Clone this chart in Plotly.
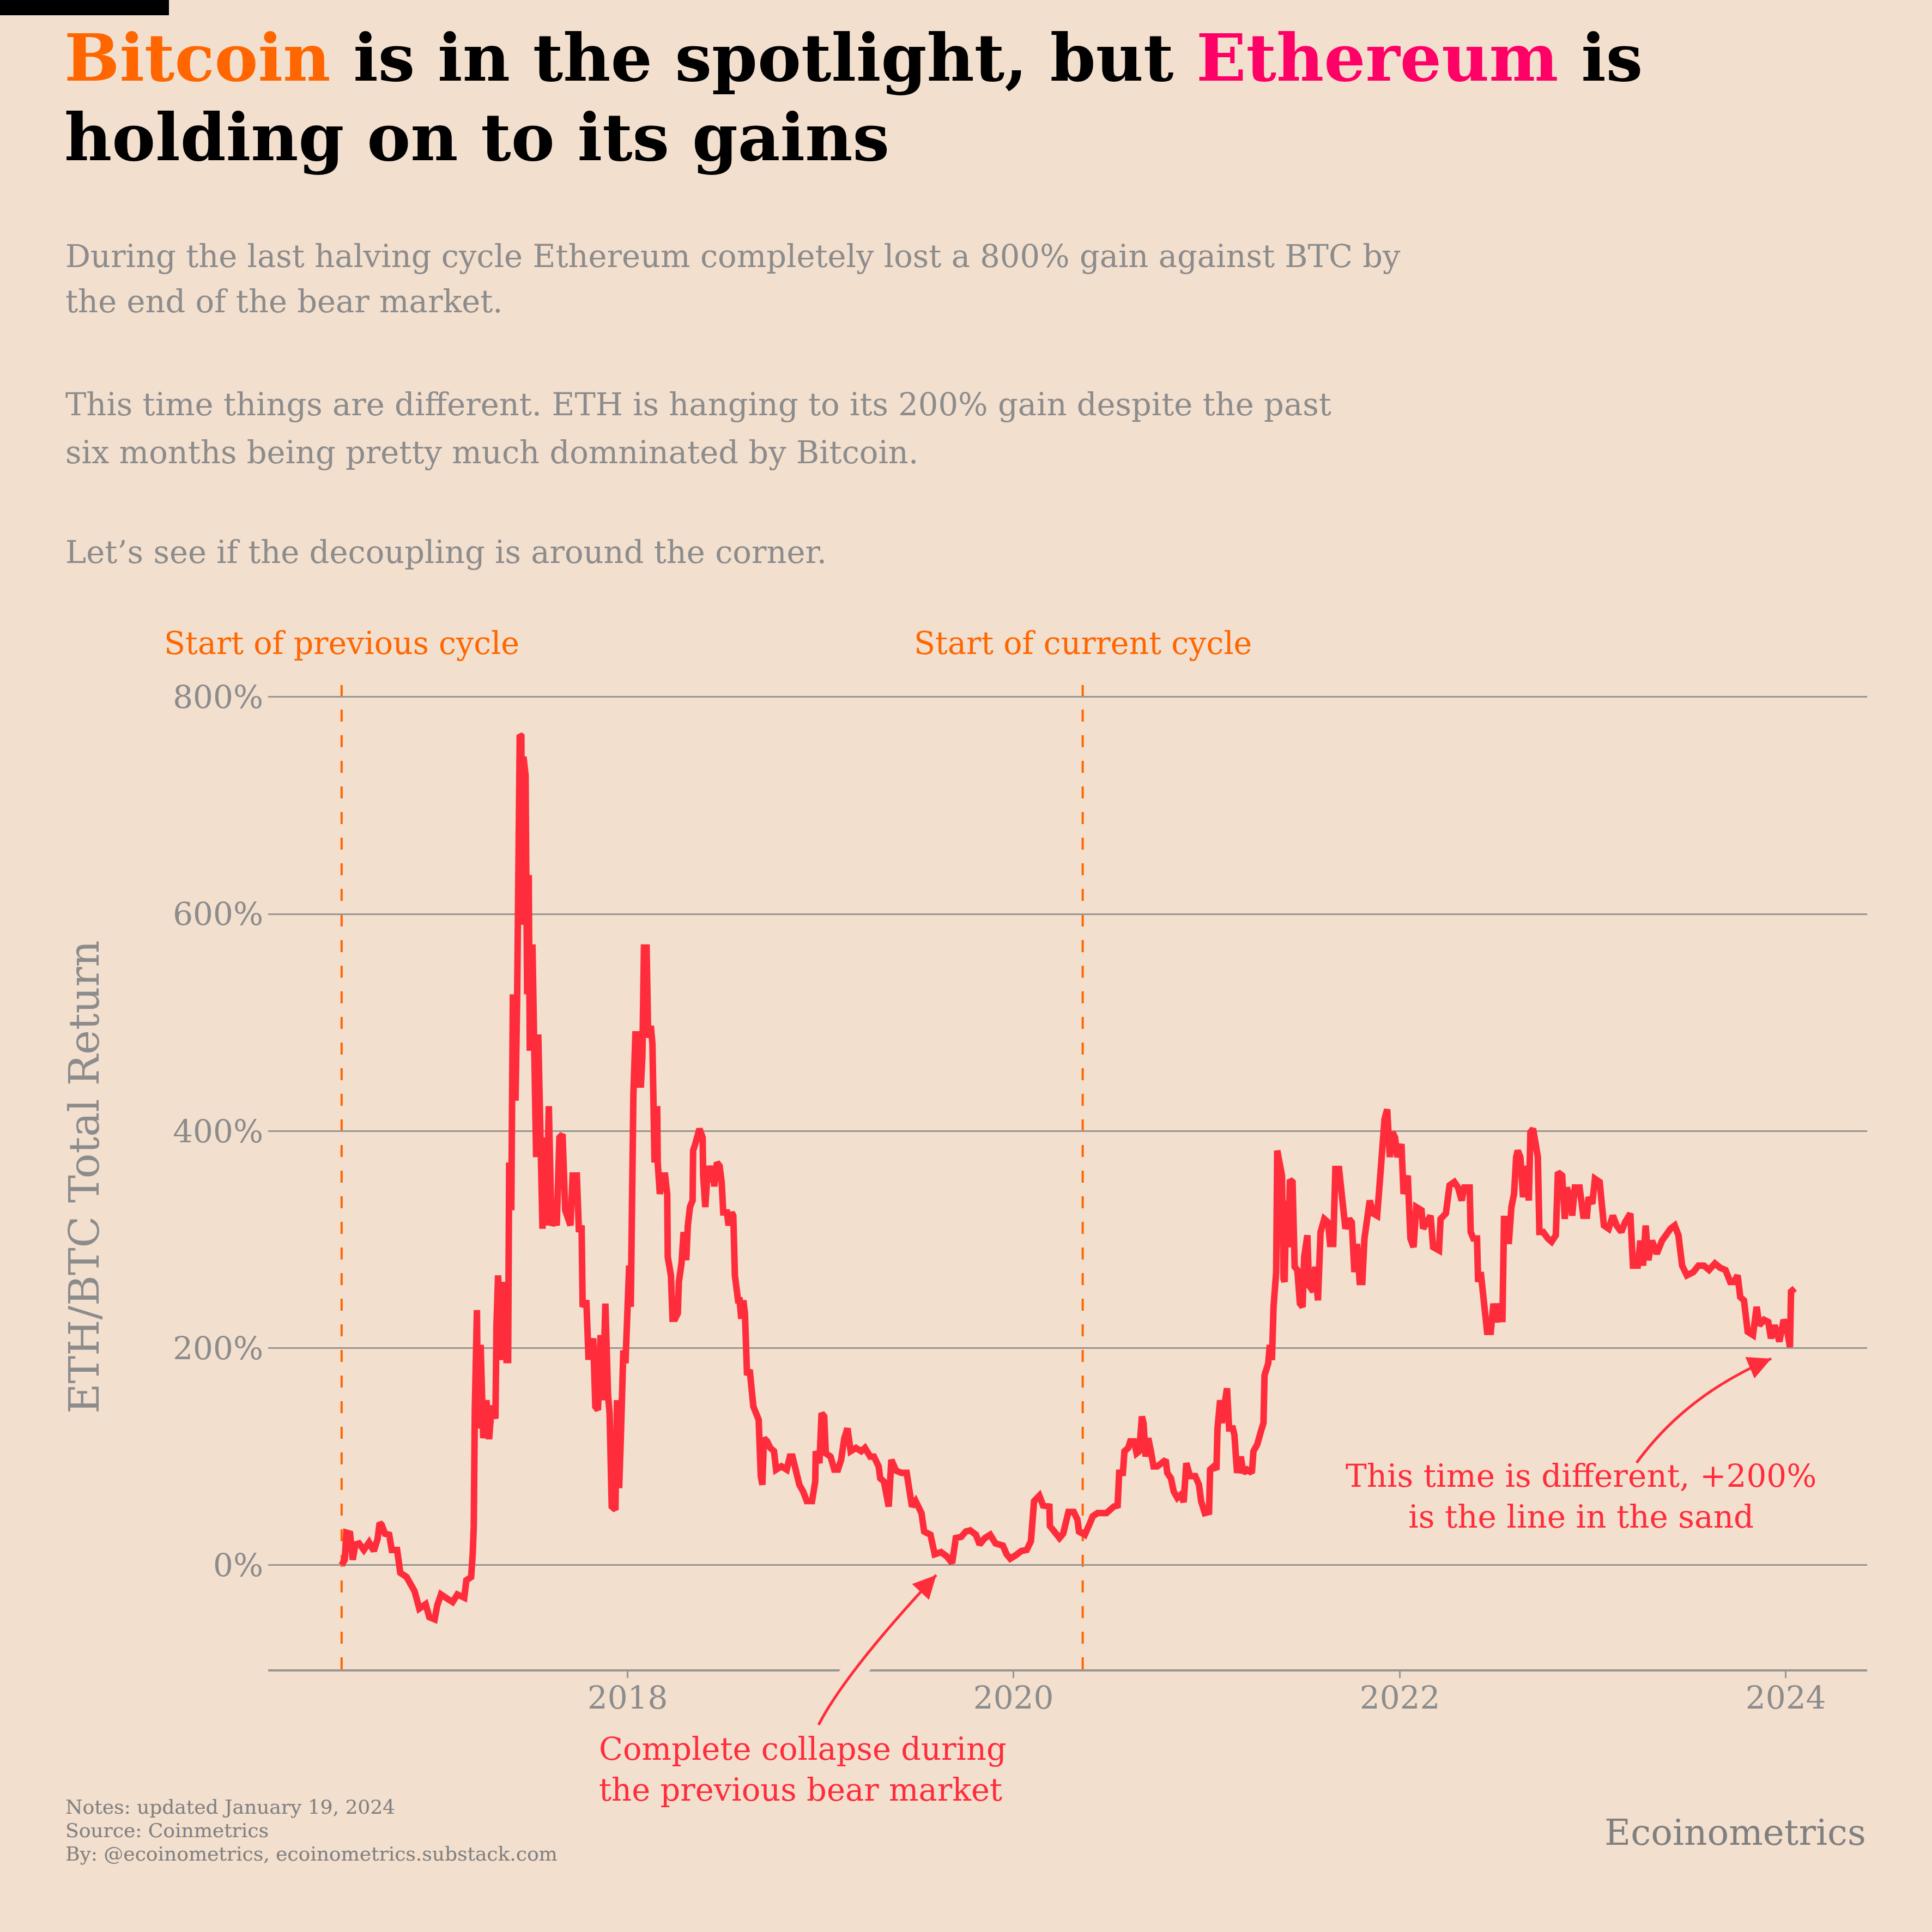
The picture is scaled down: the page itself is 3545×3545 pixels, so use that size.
import pandas as pd
import plotly.graph_objects as go

# ---------------- data ----------------
HALVING_2016 = "2016-07-09"
HALVING_2020 = "2020-05-11"

# days since the July 2016 halving
days = [
    0, 6, 9, 16, 21, 26, 33, 42, 52, 61, 68, 72, 76, 82, 90, 95, 105, 111, 123, 131, 138, 147, 159, 166, 176,
    181, 188, 200, 210, 219, 232, 236, 245, 248, 250, 252, 256, 258, 260, 263, 268, 274, 279, 284, 291, 293,
    296, 301, 306, 312, 315, 317, 321, 324, 329, 332, 334, 337, 340, 342, 344, 348, 351, 354, 356, 361, 363,
    366, 368, 372, 376, 380, 383, 387, 392, 397, 403, 407, 412, 418, 423, 428, 433, 437, 445, 449, 454, 456,
    463, 467, 471, 476, 480, 485, 487,
    490, 494, 499, 504, 507, 511, 518, 521, 525, 528, 530, 533, 537, 540, 542, 544, 547, 549, 552, 556, 559,
    562, 566, 569, 572, 577, 580, 585, 588, 592, 597, 598, 602, 607, 612, 616, 617, 623, 626, 631, 636, 638,
    643, 647, 652, 655, 659, 664, 665, 669, 674, 677, 683, 684, 688, 693, 698, 702, 705, 710, 715, 719, 722,
    729, 732, 738, 741, 744, 750, 753, 756, 760, 763, 767, 772, 775, 779, 784, 789, 793, 796, 799, 805, 811,
    818, 822, 832, 842, 848, 853, 860, 866, 873, 880, 890, 896, 897, 904, 908, 913, 916, 925, 932, 939, 945,
    951, 957, 963, 973, 983, 990,
    1000, 1007, 1016, 1019, 1026, 1035, 1040, 1049, 1059, 1069, 1073, 1079, 1086, 1097, 1102, 1114, 1122,
    1134, 1145, 1155, 1162, 1172, 1181, 1189, 1200, 1207, 1217, 1227, 1237, 1251, 1258, 1265, 1275, 1286,
    1296, 1304, 1310, 1320, 1327, 1339, 1340, 1351, 1358, 1365, 1368, 1375, 1385, 1392, 1395, 1406, 1416,
    1421, 1430, 1447, 1461, 1468, 1471, 1478, 1481, 1488,
    1492, 1499, 1504, 1509, 1514, 1517, 1521, 1526, 1531, 1536, 1543, 1550, 1559, 1562, 1569, 1574, 1581,
    1588, 1593, 1598, 1605, 1615, 1622, 1626, 1633, 1641, 1643, 1650, 1655, 1657, 1662, 1665, 1672, 1675,
    1679, 1686, 1689, 1694, 1701, 1706, 1713, 1722, 1725, 1732, 1739, 1744, 1746, 1753, 1756, 1760, 1763,
    1765, 1768, 1770, 1773, 1779, 1782, 1784, 1787, 1791, 1794, 1799, 1803, 1808, 1813, 1818, 1821, 1827,
    1830, 1838, 1842, 1847, 1852, 1859, 1866, 1870, 1876, 1880, 1887, 1890, 1895, 1899, 1906, 1911, 1916,
    1921, 1926, 1931, 1935, 1940, 1945, 1952, 1959, 1964, 1967, 1973, 1978, 1983, 1988, 1993,
    1997, 2005, 2009, 2017, 2022, 2028, 2033, 2043, 2046, 2055, 2060, 2065, 2076, 2079, 2089, 2096, 2105,
    2112, 2119, 2124, 2134, 2136, 2141, 2148, 2150, 2155, 2158, 2163, 2167, 2174, 2179, 2184, 2192, 2196,
    2199, 2206, 2208, 2213, 2218, 2222, 2225, 2230, 2235, 2241, 2246, 2249, 2254, 2259, 2263, 2266, 2273,
    2282, 2289, 2297, 2301, 2309, 2314, 2318, 2325, 2328, 2333, 2342, 2349, 2356, 2359, 2366, 2371, 2380,
    2383, 2388, 2397, 2405, 2412, 2421, 2428, 2438, 2443, 2452, 2457, 2462, 2467, 2472, 2479, 2488, 2498,
    2508, 2514, 2522, 2529, 2536, 2545, 2557, 2567, 2577, 2587, 2598, 2608, 2618, 2627, 2634, 2641, 2646,
    2653, 2660, 2670, 2677, 2682, 2691, 2699, 2704, 2711, 2720, 2728, 2733, 2740, 2742, 2749,
]

# ETH/BTC total return since the 2016 halving, in %
eth_btc_return = [
    0, 5, 30, 29, 5, 19, 20, 14, 21, 13, 24, 39, 37, 29, 28, 14, 14, -7, -11, -18, -24, -40, -36, -48, -50,
    -37, -27, -31, -34, -27, -30, -14, -11, 10, 36, 143, 235, 126, 137, 203, 117, 152, 116, 147, 135, 221,
    267, 189, 261, 189, 189, 371, 327, 526, 428, 520, 601, 765, 764, 590, 745, 728, 526, 636, 474, 572, 492,
    399, 376, 489, 376, 310, 394, 313, 423, 313, 319, 313, 394, 397, 327, 319, 313, 359, 359, 307, 313, 238,
    244, 192, 192, 209, 146, 143, 212,
    212, 152, 241, 157, 140, 54, 51, 152, 71, 114, 180, 198, 186, 215, 232, 276, 238, 325, 434, 492, 440,
    492, 440, 469, 569, 569, 486, 497, 480, 371, 423, 371, 342, 359, 359, 342, 284, 267, 227, 227, 232, 261,
    278, 307, 281, 313, 330, 336, 382, 388, 399, 402, 394, 359, 330, 368, 353, 368, 349, 371, 368, 353, 325,
    325, 313, 325, 322, 267, 244, 244, 227, 244, 232, 175, 180, 169, 146, 140, 134, 82, 74, 117, 114, 108,
    105, 88, 91, 88, 100, 100, 88, 74, 68, 59, 59, 77, 105, 94, 140, 137, 103, 100, 88, 88, 97,
    117, 126, 105, 108, 105, 108,
    100, 100, 91, 80, 77, 54, 97, 87, 85, 85, 74, 54, 59, 48, 31, 28, 10,
    12, 8, 2, 25, 26, 31, 32, 28, 19, 25, 28, 20, 18, 10, 6, 9, 13,
    14, 22, 59, 64, 55, 54, 36, 28, 25, 29, 36, 49, 49, 42, 31, 28, 39,
    45, 48, 48, 54, 55, 85, 85, 105, 108,
    114, 114, 103, 105, 137, 131, 100, 117, 105, 91, 91, 94, 97, 85, 80, 68, 62,
    65, 58, 94, 82, 82, 74, 59, 48, 49, 88, 91, 88, 126, 152, 131, 163, 163,
    126, 126, 120, 85, 100, 85, 88, 85, 105, 111, 123, 131, 175, 186, 203, 189, 238,
    261, 270, 382, 376, 359, 264, 261, 336, 293, 355, 353, 275, 272, 241, 238, 284, 304,
    258, 252, 275, 244, 307, 319, 316, 296, 296, 365, 365, 347, 330, 310, 319, 316, 270,
    296, 261, 261, 301, 319, 336, 324, 322, 353, 382, 411, 420, 376, 399, 394,
    376, 388, 342, 359, 301, 293, 330, 327, 310, 319, 322, 293, 290, 319, 324, 350, 353,
    348, 336, 348, 348, 307, 301, 301, 261, 270, 252, 232, 215, 215, 241, 224, 241, 224,
    319, 319, 296, 330, 342, 376, 382, 376, 339, 368, 336, 399, 402, 388, 376, 307, 307,
    301, 298, 304, 362, 359, 319, 348, 336, 322, 348, 348, 322, 322, 339, 333, 356, 353,
    336, 313, 310, 322, 313, 307, 316, 324, 276, 276, 299, 276, 313, 281, 299, 287, 299,
    307, 310, 313, 304, 276, 267, 270, 276, 276, 272, 278, 274, 272, 261, 261, 267, 247,
    244, 215, 212, 238, 221, 226, 224, 209, 221, 206, 226, 221, 201, 252, 255,
]

y_ticks = [0, 200, 400, 600, 800]
y_tick_labels = ["0%", "200%", "400%", "600%", "800%"]
x_ticks = ["2018-01-01", "2020-01-01", "2022-01-01", "2024-01-01"]
x_tick_labels = ["2018", "2020", "2022", "2024"]

cycle_starts = [HALVING_2016, HALVING_2020]
cycle_labels = ["Start of previous cycle", "Start of current cycle"]

title_lines = [
    "<b><span style='color:#FF6600'>Bitcoin</span> is in the spotlight, but "
    "<span style='color:#FF0066'>Ethereum</span> is</b>",
    "<b>holding on to its gains</b>",
]
subtitle_lines = [
    ("During the last halving cycle Ethereum completely lost a 800% gain against BTC by", 470),
    ("the end of the bear market.", 554),
    ("This time things are different. ETH is hanging to its 200% gain despite the past", 742),
    ("six months being pretty much domninated by Bitcoin.", 830),
    ("Let\u2019s see if the decoupling is around the corner.", 1013),
]
footnotes = [
    ("Notes: updated January 19, 2024", 3315),
    ("Source: Coinmetrics", 3358),
    ("By: @ecoinometrics, ecoinometrics.substack.com", 3401),
]

# ---------------- styles / layout geometry ----------------
W = H = 3545
L, R, T, B = 492, 3426, 1257, 3063
BG = "#F2DFCE"
RED = "#FF2D3C"
ORANGE = "#FF6600"
GRAY = "#8C8C8C"
GRID = "#999691"
FONT = "DejaVu Serif"


def PX(px):
    return (px - L) / (R - L)


def PY(py):
    return (B - py) / (B - T)


start = pd.Timestamp(HALVING_2016)
dates = [start + pd.Timedelta(days=d) for d in days]

fig = go.Figure()
fig.add_trace(go.Scatter(
    x=dates, y=eth_btc_return, mode="lines",
    line=dict(color=RED, width=12), hoverinfo="skip", showlegend=False,
))

annotations = []
shapes = []

# black bar top-left
shapes.append(dict(type="rect", xref="paper", yref="paper", x0=PX(0), x1=PX(310), y0=PY(0), y1=PY(28),
                   fillcolor="black", line=dict(width=0), layer="above"))

# halving lines + labels
for d, lab in zip(cycle_starts, cycle_labels):
    shapes.append(dict(type="line", xref="x", yref="paper", x0=d, x1=d, y0=0, y1=1,
                       line=dict(color=ORANGE, width=4, dash="22px,25px"), layer="below"))
    annotations.append(dict(x=d, xref="x", y=PY(1180), yref="paper", text=lab, showarrow=False,
                            xanchor="center", yanchor="middle",
                            font=dict(family=FONT, size=57, color=ORANGE)))

# title
for txt, yc in zip(title_lines, [106, 252]):
    annotations.append(dict(x=PX(116), y=PY(yc), xref="paper", yref="paper", text=txt, showarrow=False,
                            xanchor="left", yanchor="middle",
                            font=dict(family=FONT, size=120, color="black")))
# subtitle
for txt, yc in subtitle_lines:
    annotations.append(dict(x=PX(118), y=PY(yc), xref="paper", yref="paper", text=txt, showarrow=False,
                            xanchor="left", yanchor="middle",
                            font=dict(family=FONT, size=57.5, color=GRAY)))
# footnotes
for txt, yc in footnotes:
    annotations.append(dict(x=PX(118), y=PY(yc), xref="paper", yref="paper", text=txt, showarrow=False,
                            xanchor="left", yanchor="middle",
                            font=dict(family=FONT, size=36, color="#808080")))
annotations.append(dict(x=1, y=PY(3362), xref="paper", yref="paper", text="Ecoinometrics", showarrow=False,
                        xanchor="right", yanchor="middle", font=dict(family=FONT, size=66, color="#808080")))

# y axis title
annotations.append(dict(x=PX(154), y=0.5, xref="paper", yref="paper", text="ETH/BTC Total Return",
                        showarrow=False, textangle=-90, xanchor="center", yanchor="middle",
                        font=dict(family=FONT, size=76, color=GRAY)))

# red annotations
annotations.append(dict(x=PX(2901), y=PY(2745), xref="paper", yref="paper",
                        text="This time is different, +200%<br>is the line in the sand", showarrow=False,
                        xanchor="center", yanchor="middle", align="center",
                        font=dict(family=FONT, size=58, color=RED)))
annotations.append(dict(x=PX(1097), y=PY(3247), xref="paper", yref="paper",
                        text="Complete collapse during<br>the previous bear market", showarrow=False,
                        xanchor="left", yanchor="middle", align="left",
                        font=dict(family=FONT, size=57.5, color=RED)))


def bez(p0, p1, p2, t):
    return ((1 - t) ** 2 * p0[0] + 2 * t * (1 - t) * p1[0] + t ** 2 * p2[0],
            (1 - t) ** 2 * p0[1] + 2 * t * (1 - t) * p1[1] + t ** 2 * p2[1])


arrows = [
    ((1502, 3165), (1552, 3068), (1718, 2890)),
    ((3003, 2684), (3094, 2559), (3250, 2493)),
]
for i, (p0, p1, p2) in enumerate(arrows):
    if i == 0:
        a = bez(p0, p1, p2, 0.32)
        b = bez(p0, p1, p2, 0.56)
        shapes.append(dict(type="line", xref="paper", yref="paper", x0=PX(a[0]), y0=PY(a[1]),
                           x1=PX(b[0]), y1=PY(b[1]), line=dict(color=BG, width=44), layer="above"))
    path = (f"M {PX(p0[0])},{PY(p0[1])} Q {PX(p1[0])},{PY(p1[1])} {PX(p2[0])},{PY(p2[1])}")
    shapes.append(dict(type="path", xref="paper", yref="paper", path=path,
                       line=dict(color=RED, width=5), layer="above"))
    dx, dy = p2[0] - p1[0], p2[1] - p1[1]
    n = (dx * dx + dy * dy) ** 0.5
    annotations.append(dict(x=PX(p2[0]), y=PY(p2[1]), xref="paper", yref="paper", text="",
                            showarrow=True, ax=-dx / n * 30, ay=-dy / n * 30, axref="pixel", ayref="pixel",
                            arrowhead=2, arrowsize=1.7, arrowwidth=5, arrowcolor=RED, standoff=0))

fig.update_layout(
    width=W, height=H,
    paper_bgcolor=BG, plot_bgcolor=BG,
    margin=dict(l=L, r=W - R, t=T, b=H - B, pad=0),
    font=dict(family=FONT, color=GRAY),
    showlegend=False,
    annotations=annotations,
    shapes=shapes,
    xaxis=dict(
        type="date", range=["2016-02-21", "2024-06-03"],
        tickvals=x_ticks, ticktext=x_tick_labels,
        showgrid=False, zeroline=False,
        showline=True, linecolor=GRID, linewidth=4,
        ticks="outside", ticklen=12, tickwidth=3, tickcolor=GRID,
        ticklabelstandoff=-14,
        tickfont=dict(family=FONT, size=58, color=GRAY),
    ),
    yaxis=dict(
        range=[-96, 811],
        tickvals=y_ticks, ticktext=y_tick_labels,
        showgrid=True, gridcolor=GRID, gridwidth=3,
        zeroline=False, showline=False, ticks="",
        ticklabelstandoff=8,
        tickfont=dict(family=FONT, size=58, color=GRAY),
    ),
)

fig.write_html(
    "out.html",
    config={"displayModeBar": False},
    post_script="document.body.style.margin='0px';document.body.style.background='" + BG + "';",
)
